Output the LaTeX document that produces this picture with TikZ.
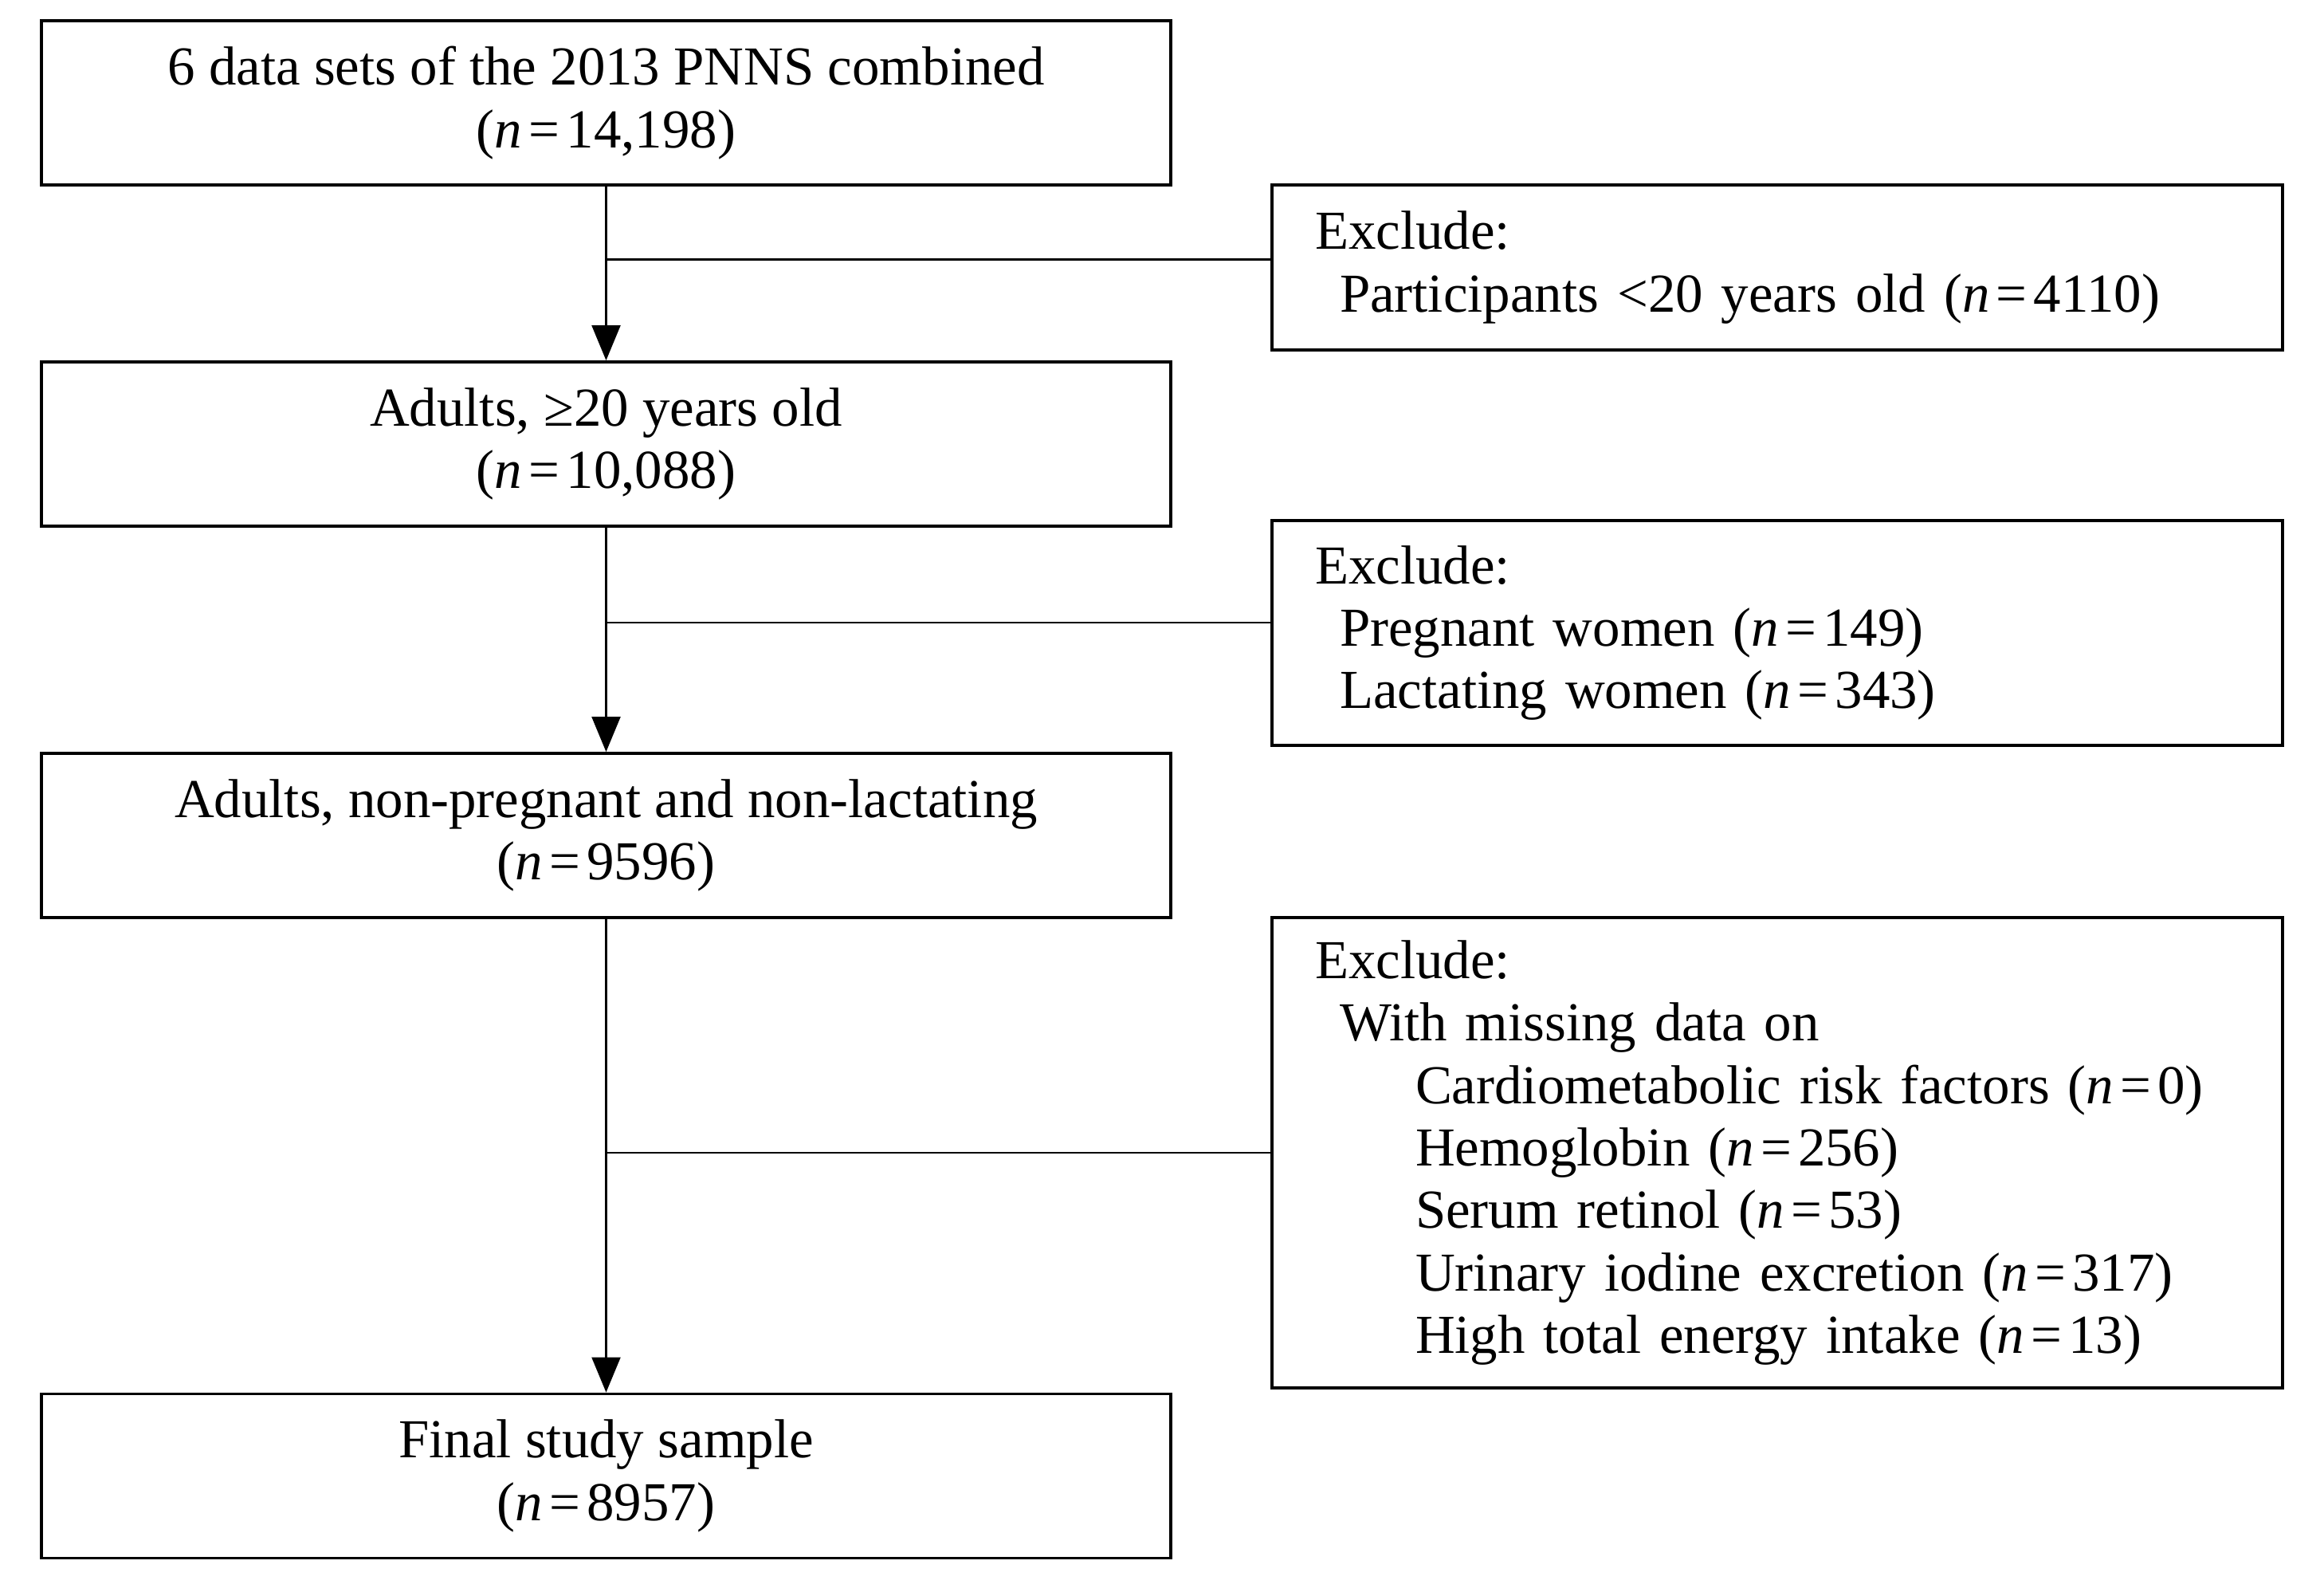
\documentclass[tikz,border=0pt]{standalone}
\usepackage{fontspec}
\setmainfont{Liberation Serif}
\usetikzlibrary{arrows.meta}
\newcommand{\lvA}[1]{\mbox{\hspace*{0.31cm}#1}}
\newcommand{\lvB}[1]{\mbox{\hspace*{1.26cm}#1}}
\newcommand{\nn}[1]{(\textit{n}\hspace{0.12em}=\hspace{0.12em}#1)}
\begin{document}
\begin{tikzpicture}[
  font=\fontsize{19.6}{22.3}\selectfont,
  mainbox/.style={draw, line width=1.1pt, minimum width=14.17cm, minimum height=2.06cm, align=center, inner sep=0pt},
  exbox/.style={draw, line width=1.1pt, minimum width=12.68cm, text width=11.6cm, align=left, inner xsep=0.54cm, inner ysep=0pt},
  conn/.style={line width=0.6pt},
  arr/.style={line width=0.6pt, -{Triangle[length=0.44cm, width=0.36cm]}}
]
\useasboundingbox (0,0) rectangle (29.16,-19.96);
\node[mainbox] (b1) at (7.605,-1.29) {6 data sets of the 2013 PNNS combined\\\nn{14,198}};
\node[mainbox] (b2) at (7.605,-5.57) {Adults, ≥20 years old\\\nn{10,088}};
\node[mainbox] (b3) at (7.605,-10.48) {Adults, non-pregnant and non-lactating\\\nn{9596}};
\node[mainbox] (b4) at (7.605,-18.515) {Final study sample\\\nn{8957}};
\node[exbox, minimum height=2.07cm] (e1) at (22.30,-3.355) {Exclude:\\\lvA{Participants <20 years old \nn{4110}}};
\node[exbox, minimum height=2.82cm] (e2) at (22.30,-7.94) {Exclude:\\\lvA{Pregnant women \nn{149}}\\\lvA{Lactating women \nn{343}}};
\node[exbox, minimum height=5.90cm] (e3) at (22.30,-14.46) {Exclude:\\\lvA{With missing data on}\\
\lvB{Cardiometabolic risk factors \nn{0}}\\
\lvB{Hemoglobin \nn{256}}\\
\lvB{Serum retinol \nn{53}}\\
\lvB{Urinary iodine excretion \nn{317}}\\
\lvB{High total energy intake \nn{13}}};
\draw[arr] (b1.south) -- (b2.north);
\draw[arr] (b2.south) -- (b3.north);
\draw[arr] (b3.south) -- (b4.north);
\coordinate (j1) at ([yshift=0.1cm]e1.west);
\coordinate (j2) at ([yshift=0.13cm]e2.west);
\draw[conn] (j1) -- (j1 -| b1.south);
\draw[conn] (j2) -- (j2 -| b2.south);
\draw[conn] (e3.west) -- (e3.west -| b3.south);
\end{tikzpicture}
\end{document}
